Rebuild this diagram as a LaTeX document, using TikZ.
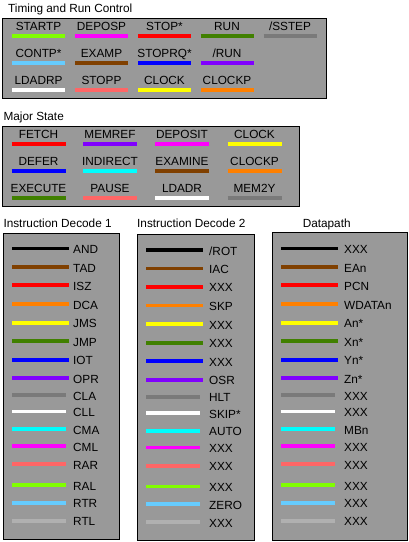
\documentclass[tikz,border=0pt]{standalone}
\usepackage{fontspec}
\setmainfont{Liberation Sans}
\definecolor{panelgray}{HTML}{999999}
\definecolor{sbrown}{HTML}{804000}
\definecolor{sorange}{HTML}{FF8000}
\definecolor{sgreen}{HTML}{408000}
\definecolor{sviolet}{HTML}{8000FF}
\definecolor{sgray}{HTML}{7A7A7A}
\definecolor{ssalmon}{HTML}{FF6666}
\definecolor{slime}{HTML}{80FF00}
\definecolor{ssky}{HTML}{66CCFF}
\definecolor{slight}{HTML}{B0B0B0}
\definecolor{smagenta}{HTML}{FF00FF}
\definecolor{scyan}{HTML}{00FFFF}
\definecolor{syellow}{HTML}{FFFF00}

\begin{document}
\begin{tikzpicture}[x=1pt,y=-1pt]
\tikzstyle{every node}=[inner sep=0pt, font=\fontsize{11.8}{13}\selectfont]
\tikzstyle{panel}=[draw=black, fill=panelgray, line width=1pt]
\tikzstyle{swatch}=[line width=3.8pt]
\useasboundingbox (0,0) rectangle (409,542);

% timing and run control
\draw (8,12) node (trtitle) [anchor=base west] {Timing and Run Control};
\draw[panel] (2.5,18.5) rectangle (326.5,98.5);
\foreach \x/\y/\c/\t [count=\i] in {38.5/36/slime/STARTP, 101.5/36/smagenta/DEPOSP,
  164.5/36/red/STOP*, 227/36/sgreen/RUN, 290/36/sgray/{/SSTEP},
  38.5/63/ssky/CONTP*, 101.5/63/sbrown/EXAMP, 164.5/63/blue/STOPRQ*,
  227/63/sviolet/{/RUN},
  38.5/90/white/LDADRP, 101.5/90/ssalmon/STOPP, 164.5/90/syellow/CLOCK,
  227/90/sorange/CLOCKP} {
  \draw[swatch,\c] (\x-26.5,\y) -- (\x+26.5,\y);
  \draw (\x,\y-5.3) node (tr\i) [anchor=base] {\t};
}

% major state
\draw (3.3,120) node (mstitle) [anchor=base west] {Major State};
\draw[panel] (2.5,126.7) rectangle (299,206.7);
\foreach \x/\y/\c/\t [count=\i] in {38.5/144/red/FETCH, 110/144/sviolet/MEMREF,
  182/144/smagenta/DEPOSIT, 254.5/144/syellow/CLOCK,
  38.5/171/blue/DEFER, 110/171/scyan/INDIRECT, 182/171/sbrown/EXAMINE,
  254.5/171/sorange/CLOCKP,
  38.5/198/sgreen/EXECUTE, 110/198/ssalmon/PAUSE, 182/198/white/LDADR,
  254.5/198/sgray/MEM2Y} {
  \draw[swatch,\c] (\x-27,\y) -- (\x+27,\y);
  \draw (\x,\y-5.3) node (ms\i) [anchor=base] {\t};
}

% decode and datapath panels
\draw (3.3,227.3) node (idatitle) [anchor=base west] {Instruction Decode 1};
\draw (137,227.3) node (idbtitle) [anchor=base west] {Instruction Decode 2};
\draw (326.7,227.3) node (dptitle) [anchor=base] {Datapath};
\draw[panel] (3,233) rectangle (119.3,539.5);
\draw[panel] (137.3,234) rectangle (254.3,540.5);
\draw[panel] (272.3,232.7) rectangle (407.7,540);
\foreach \dy/\c/\len/\a/\b/\d [count=\i] in {
  0/black/56.5/AND/{/ROT}/XXX, 18.5/sbrown/56.5/TAD/IAC/EAn,
  36.8/red/56.5/ISZ/XXX/PCN, 55.5/sorange/56.5/DCA/SKP/WDATAn,
  74.2/syellow/56.5/JMS/XXX/An*, 92.7/sgreen/56.5/JMP/XXX/Xn*,
  111.2/blue/56.5/IOT/XXX/Yn*, 129.8/sviolet/56.5/OPR/OSR/Zn*,
  146.6/sgray/54/CLA/HLT/XXX, 163/white/54/CLL/SKIP*/XXX,
  180.6/scyan/54/CMA/AUTO/MBn, 197.5/smagenta/54/CML/XXX/XXX,
  215.8/ssalmon/54/RAR/XXX/XXX, 236.5/slime/54/RAL/XXX/XXX,
  254.2/ssky/54/RTR/ZERO/XXX, 272.3/slight/54/RTL/XXX/XXX} {
  \draw[swatch,\c] (12,248.5+\dy) -- (12+\len,248.5+\dy);
  \draw (73,253.5+\dy) node (ida\i) [anchor=base west] {\a};
  \draw[swatch,\c] (146,250+\dy) -- (146+\len,250+\dy);
  \draw (209,255+\dy) node (idb\i) [anchor=base west] {\b};
  \draw[swatch,\c] (281,248.5+\dy) -- (281+\len,248.5+\dy);
  \draw (344,253.5+\dy) node (dp\i) [anchor=base west] {\d};
}
\end{tikzpicture}
\end{document}
